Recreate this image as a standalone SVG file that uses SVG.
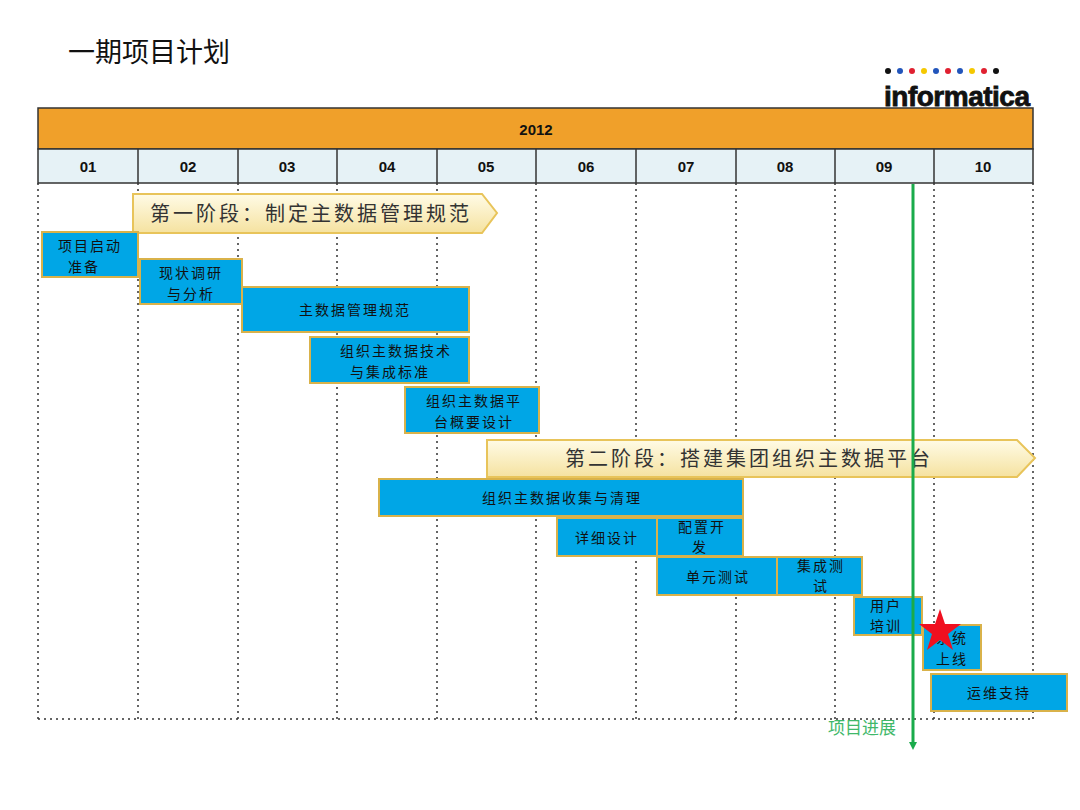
<svg xmlns="http://www.w3.org/2000/svg" width="1080" height="810" viewBox="0 0 1080 810">
<defs>
<style>
.t{font-family:"Noto Sans CJK SC",sans-serif;}
.k{font-family:"Noto Sans CJK SC",sans-serif;font-size:14px;fill:#111;text-anchor:middle;letter-spacing:2px;}
.b{fill:#00a6e6;stroke:#d9b24a;stroke-width:2;}
.g{stroke:#333;stroke-width:1.5;stroke-dasharray:2 4;fill:none;}
.m{font-family:"Liberation Sans",sans-serif;font-size:15px;font-weight:bold;text-anchor:middle;fill:#111;}
.ph{font-family:"Noto Sans CJK SC",sans-serif;font-size:20px;fill:#333;}
</style>
<linearGradient id="yg" x1="0" y1="0" x2="0" y2="1"><stop offset="0" stop-color="#fffbe6"/><stop offset="1" stop-color="#f5e2a0"/></linearGradient>
<marker id="ga" markerWidth="8" markerHeight="8" refX="4" refY="4" orient="auto" markerUnits="userSpaceOnUse" viewBox="0 0 8 8"><path d="M0,0 L8,4 L0,8 z" fill="#1aab4b"/></marker>
</defs>
<rect width="1080" height="810" fill="#fff"/>
<text x="68" y="62" class="t" font-size="27" fill="#111">一期项目计划</text>
<g id="logo">
<g>
<circle cx="888" cy="71" r="3" fill="#111"/><circle cx="900" cy="71" r="3" fill="#2255bb"/><circle cx="912" cy="71" r="3" fill="#e02030"/><circle cx="924" cy="71" r="3" fill="#f5c800"/><circle cx="936" cy="71" r="3" fill="#2255bb"/><circle cx="948" cy="71" r="3" fill="#e02030"/><circle cx="960" cy="71" r="3" fill="#2255bb"/><circle cx="972" cy="71" r="3" fill="#f5c800"/><circle cx="984" cy="71" r="3" fill="#e02030"/><circle cx="996" cy="71" r="3" fill="#111"/>
</g>
<text x="884" y="106" font-family="Liberation Sans,sans-serif" font-weight="bold" font-size="28" fill="#111" stroke="#111" stroke-width="0.8" textLength="146">informatica</text>
</g>
<g id="table">
<rect x="38" y="108" width="995" height="41" fill="#f0a02a" stroke="#333" stroke-width="1.5"/>
<text x="536" y="135" class="m" font-size="17">2012</text>
<rect x="38" y="149" width="995" height="34" fill="#e6f2f6" stroke="#333" stroke-width="1.5"/>
<g stroke="#333" stroke-width="1.5">
<line x1="138" y1="149" x2="138" y2="183"/><line x1="238" y1="149" x2="238" y2="183"/><line x1="337" y1="149" x2="337" y2="183"/><line x1="437" y1="149" x2="437" y2="183"/><line x1="536" y1="149" x2="536" y2="183"/><line x1="636" y1="149" x2="636" y2="183"/><line x1="736" y1="149" x2="736" y2="183"/><line x1="835" y1="149" x2="835" y2="183"/><line x1="934" y1="149" x2="934" y2="183"/>
</g>
<text class="m" y="172"><tspan x="88">01</tspan><tspan x="188">02</tspan><tspan x="287">03</tspan><tspan x="387">04</tspan><tspan x="486">05</tspan><tspan x="586">06</tspan><tspan x="686">07</tspan><tspan x="785">08</tspan><tspan x="884">09</tspan><tspan x="983">10</tspan></text>
<path class="g" d="M38,183V719M138,183V719M238,183V719M337,183V719M437,183V719M536,183V719M636,183V719M736,183V719M835,183V719M934,183V719M1033,183V719M38,719H1033"/>
</g>
<g id="phase1">
<path d="M133,194H482L497,213L482,233H133Z" fill="url(#yg)" stroke="#e8c45a" stroke-width="2"/>
<text x="150" y="221" class="ph" letter-spacing="3">第一阶段：制定主数据管理规范</text>
</g>
<g id="phase2">
<path d="M487,440H1017L1035,458L1017,477H487Z" fill="url(#yg)" stroke="#e8c45a" stroke-width="2"/>
<text x="565" y="466" class="ph" letter-spacing="3">第二阶段：搭建集团组织主数据平台</text>
</g>
<g id="n1"><rect class="b" x="42" y="232" width="96" height="45"/><text class="k" x="90" y="251">项目启动</text><text class="k" x="84" y="272">准备</text></g>
<g id="n2"><rect class="b" x="140" y="259" width="102" height="45"/><text class="k" x="191" y="278">现状调研</text><text class="k" x="191" y="299">与分析</text></g>
<g id="n3"><rect class="b" x="242" y="287" width="227" height="45"/><text class="k" x="355" y="315">主数据管理规范</text></g>
<g id="n4"><rect class="b" x="310" y="337" width="159" height="46"/><text class="k" x="396" y="356">组织主数据技术</text><text class="k" x="390" y="377">与集成标准</text></g>
<g id="n5"><rect class="b" x="405" y="387" width="134" height="46"/><text class="k" x="474" y="406">组织主数据平</text><text class="k" x="474" y="427">台概要设计</text></g>
<g id="n6"><rect class="b" x="379" y="479" width="364" height="37"/><text class="k" x="562" y="503">组织主数据收集与清理</text></g>
<g id="n7"><rect class="b" x="557" y="518" width="100" height="38"/><text class="k" x="607" y="543">详细设计</text></g>
<g id="n8"><rect class="b" x="657" y="518" width="86" height="38"/><text class="k" x="702" y="532" font-size="13">配置开</text><text class="k" x="700" y="552" font-size="13">发</text></g>
<g id="n9"><rect class="b" x="657" y="557" width="120" height="38"/><text class="k" x="718" y="582">单元测试</text></g>
<g id="n10"><rect class="b" x="777" y="557" width="85" height="38"/><text class="k" x="821" y="571" font-size="13">集成测</text><text class="k" x="821" y="591" font-size="13">试</text></g>
<g id="n11"><rect class="b" x="854" y="597" width="68" height="38"/><text class="k" x="886" y="611" font-size="13">用户</text><text class="k" x="886" y="631" font-size="13">培训</text></g>
<g id="n12"><rect class="b" x="923" y="625" width="58" height="45"/><text class="k" x="952" y="643">系统</text><text class="k" x="952" y="664">上线</text></g>
<g id="n13"><rect class="b" x="931" y="674" width="136" height="37"/><text class="k" x="999" y="698">运维支持</text></g>
<g id="connectors">
<line x1="913" y1="184" x2="913" y2="746" stroke="#1aab4b" stroke-width="3" marker-end="url(#ga)"/>
<text x="828" y="734" class="t" font-size="17" fill="#3fb86a">项目进展</text>
</g>
<polygon points="940,609 945,624 961,624 948,634 953,650 940,640 927,650 932,634 919,624 935,624" fill="#f01020"/>
</svg>
